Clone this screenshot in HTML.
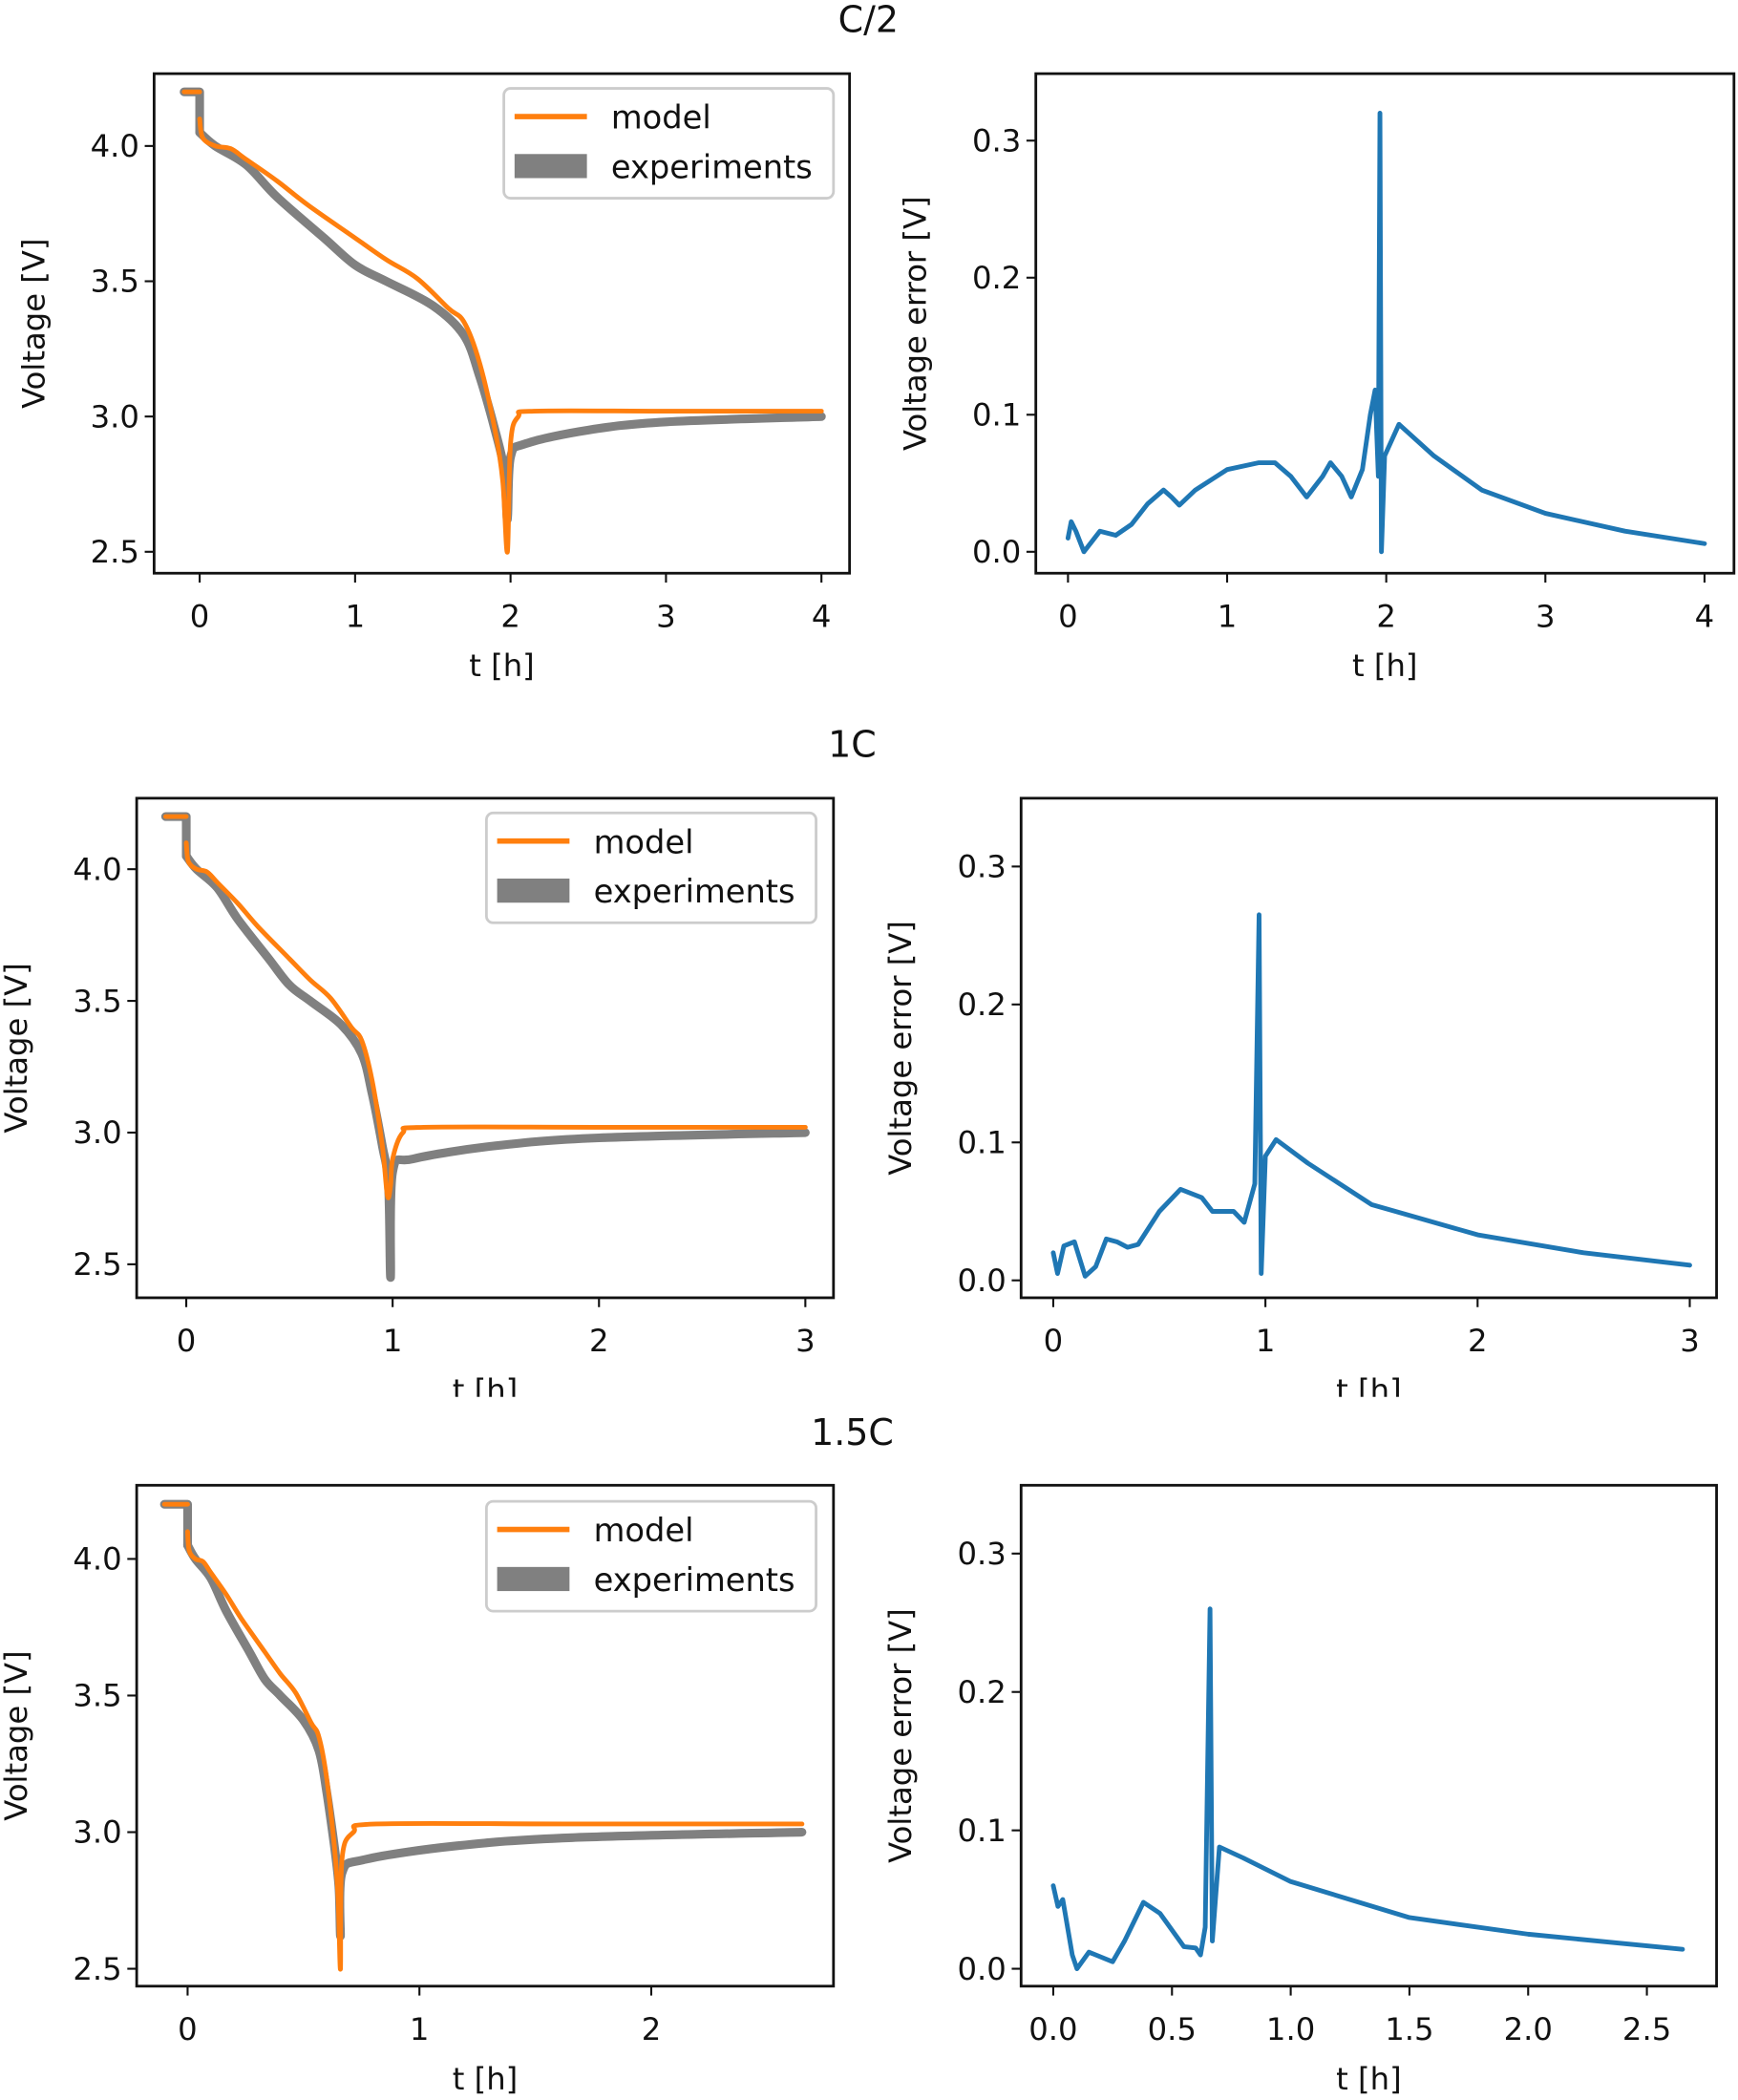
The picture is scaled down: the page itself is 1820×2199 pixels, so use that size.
<!DOCTYPE html>
<html><head><meta charset="utf-8"><style>
html,body{margin:0;padding:0;background:#fff}
svg{display:block}
text{font-family:"DejaVu Sans","Liberation Sans",sans-serif;fill:#111}
</style></head><body>
<svg id="s" width="1820" height="2199" viewBox="0 0 1297 1568" preserveAspectRatio="none" xmlns="http://www.w3.org/2000/svg">
<rect width="1297" height="1568" fill="#fff"/>
<g id="g"></g>
</svg>
<script>
var NS="http://www.w3.org/2000/svg",G=document.getElementById('g');
function el(t,a,txt){var e=document.createElementNS(NS,t);for(var k in a)e.setAttribute(k,a[k]);if(txt!==undefined)e.textContent=txt;G.appendChild(e);return e;}
function line(pts,X,Y,col,w,smooth){
 var P=pts.map(function(p){return [X(p[0]),Y(p[1])];}),d='M'+P[0][0].toFixed(1)+','+P[0][1].toFixed(1);
 for(var i=1;i<P.length;i++){
  if(!smooth){d+=' L'+P[i][0].toFixed(1)+','+P[i][1].toFixed(1);continue;}
  var p0=P[Math.max(i-2,0)],p1=P[i-1],p2=P[i],p3=P[Math.min(i+1,P.length-1)],k=1/6;
  var c1=[p1[0]+(p2[0]-p0[0])*k,p1[1]+(p2[1]-p0[1])*k],c2=[p2[0]-(p3[0]-p1[0])*k,p2[1]-(p3[1]-p1[1])*k];
  d+=' C'+c1[0].toFixed(1)+','+c1[1].toFixed(1)+' '+c2[0].toFixed(1)+','+c2[1].toFixed(1)+' '+p2[0].toFixed(1)+','+p2[1].toFixed(1);
 }
 el('path',{d:d,fill:'none',stroke:col,'stroke-width':w,'stroke-linejoin':'round','stroke-linecap':'round'});}
function axes(b,xt,yt,X,Y,ylab,xlab){
 xt.forEach(function(t){var x=X(t);el('line',{x1:x,y1:b.y1,x2:x,y2:b.y1+7,stroke:'#111','stroke-width':1.5});el('text',{x:x,y:b.y1+40,'font-size':23,'text-anchor':'middle'},String(t.toFixed(xt.dec)));});
 yt.forEach(function(t){var y=Y(t);el('line',{x1:b.x0-7,y1:y,x2:b.x0,y2:y,stroke:'#111','stroke-width':1.5});el('text',{x:b.x0-11,y:y+8,'font-size':23,'text-anchor':'end'},t.toFixed(1));});
 el('rect',{x:b.x0,y:b.y0,width:b.x1-b.x0,height:b.y1-b.y0,fill:'none',stroke:'#111','stroke-width':2});
 var cx=(b.x0+b.x1)/2;
 el('text',{x:cx,y:b.y1+77,'font-size':23,'text-anchor':'middle'},xlab);
 var yc=(b.y0+b.y1)/2,lx=b.x0-82;
 el('text',{x:lx,y:yc,'font-size':23,'text-anchor':'middle',transform:'rotate(-90 '+lx+' '+yc+')'},ylab);
}
function lin(a0,p0,a1,p1){return function(v){return p0+(v-a0)*(p1-p0)/(a1-a0);};}
var model=[[0,4.1],[0.02,4.03],[0.1,4.0],[0.2,3.99],[0.3,3.95],[0.5,3.87],[0.7,3.78],[1.0,3.66],[1.2,3.58],[1.4,3.51],[1.6,3.4],[1.7,3.35],[1.8,3.2],[1.9,2.95],[1.95,2.76],[1.98,2.5],[2.0,2.9],[2.05,3.0],[2.15,3.02],[3,3.02],[4,3.02]];
var exper=[[0,4.05],[0.1,4.0],[0.3,3.93],[0.5,3.81],[0.8,3.66],[1.0,3.56],[1.2,3.5],[1.5,3.41],[1.7,3.3],[1.8,3.15],[1.9,2.95],[1.96,2.8],[1.98,2.62],[2.0,2.85],[2.1,2.9],[2.5,2.95],[3,2.98],[4,3.0]];
function scaleT(arr,f,end){return arr.map(function(p){var t=p[0];if(t>2)t=f*2+(t-2)*(end-f*2)/2;else if(t>0)t=t*f;return [t,p[1]];});}
var rows=[
 {L:{x0:115,x1:634,y0:55,y1:428},lx:[0,4,149,613],ly:[4.0,2.5,109,412],xt:[0,1,2,3,4],f:1,end:4,
  R:{x0:773,x1:1294,y0:55,y1:428},rx:[0,4,797,1272],ry:[0,0.3,412,105],rxt:[0,1,2,3,4],rdec:0,
  err:[[0,0.01],[0.02,0.022],[0.05,0.015],[0.1,0.0],[0.2,0.015],[0.3,0.012],[0.4,0.02],[0.5,0.035],[0.6,0.045],[0.65,0.04],[0.7,0.034],[0.8,0.045],[1.0,0.06],[1.2,0.065],[1.3,0.065],[1.4,0.055],[1.5,0.04],[1.6,0.055],[1.65,0.065],[1.72,0.055],[1.78,0.04],[1.85,0.06],[1.9,0.1],[1.93,0.118],[1.95,0.055],[1.96,0.32],[1.97,0.0],[1.99,0.07],[2.08,0.093],[2.3,0.07],[2.6,0.045],[3,0.028],[3.5,0.015],[4,0.006]],
  leg:[376,66]},
 {L:{x0:102,x1:622,y0:596,y1:969},lx:[0,3,139,601],ly:[4.0,2.5,649,944],xt:[0,1,2,3],f:0.5,end:3,
  R:{x0:762,x1:1281,y0:596,y1:969},rx:[0,3,786,1261],ry:[0,0.3,956,647],rxt:[0,1,2,3],rdec:0,
  err:[[0,0.02],[0.02,0.005],[0.05,0.025],[0.1,0.028],[0.15,0.003],[0.2,0.01],[0.25,0.03],[0.3,0.028],[0.35,0.024],[0.4,0.026],[0.5,0.05],[0.6,0.066],[0.7,0.06],[0.75,0.05],[0.85,0.05],[0.9,0.042],[0.95,0.07],[0.97,0.265],[0.98,0.005],[1.0,0.09],[1.05,0.102],[1.2,0.085],[1.5,0.055],[2,0.033],[2.5,0.02],[3,0.011]],
  leg:[363,607]},
 {L:{x0:102,x1:622,y0:1109,y1:1483},lx:[0,2,140,486],ly:[4.0,2.5,1164,1470],xt:[0,1,2],f:0.333,end:2.65,
  R:{x0:762,x1:1281,y0:1109,y1:1483},rx:[0,2.5,786,1229],ry:[0,0.3,1470,1160],rxt:[0,0.5,1,1.5,2,2.5],rdec:1,
  err:[[0,0.06],[0.02,0.045],[0.04,0.05],[0.05,0.04],[0.08,0.01],[0.1,0.0],[0.15,0.012],[0.25,0.005],[0.3,0.02],[0.38,0.048],[0.45,0.04],[0.55,0.016],[0.6,0.015],[0.62,0.01],[0.64,0.03],[0.66,0.26],[0.67,0.02],[0.7,0.088],[0.8,0.08],[1.0,0.063],[1.5,0.037],[2.0,0.025],[2.65,0.014]],
  leg:[363,1121]}
];
rows.forEach(function(r,i){
 var X=lin(r.lx[0],r.lx[2],r.lx[1],r.lx[3]),Y=lin(r.ly[0],r.ly[2],r.ly[1],r.ly[3]);
 var xt=r.xt.slice();xt.dec=0;
 axes(r.L,xt,[2.5,3.0,3.5,4.0],X,Y,'Voltage [V]','t [h]');
 var e=scaleT(exper,r.f,r.end),m=scaleT(model,r.f,r.end);
 if(i==1){e=e.map(function(p){return p[1]<2.7?[p[0],2.45]:p;});m=m.map(function(p){return p[1]<2.6?[p[0],2.8]:p;});}
 if(i==2){m=m.map(function(p){return p[1]>3.01&&p[0]>0.6?[p[0],3.03]:p;});}
 line([[-0.1,4.2],[0,4.2],[0,4.05]],X,Y,'#808080',6.5,false);
 line(e,X,Y,'#808080',6.5,true);
 line([[-0.1,4.2],[0,4.2]],X,Y,'#ff7f0e',3.5,false);
 line(m,X,Y,'#ff7f0e',3.5,true);
 var lx=r.leg[0],ly=r.leg[1];
 el('rect',{x:lx,y:ly,width:246,height:82,rx:5,fill:'#fff',stroke:'#ccc','stroke-width':2,'fill-opacity':0.8});
 el('line',{x1:lx+8,y1:ly+21,x2:lx+62,y2:ly+21,stroke:'#ff7f0e','stroke-width':4});
 el('rect',{x:lx+8,y:ly+49,width:54,height:18,fill:'#808080'});
 el('text',{x:lx+80,y:ly+30,'font-size':24},'model');
 el('text',{x:lx+80,y:ly+67,'font-size':24},'experiments');
 var RX=lin(r.rx[0],r.rx[2],r.rx[1],r.rx[3]),RY=lin(r.ry[0],r.ry[2],r.ry[1],r.ry[3]);
 var rxt=r.rxt.slice();rxt.dec=r.rdec;
 axes(r.R,rxt,[0,0.1,0.2,0.3],RX,RY,'Voltage error [V]','t [h]');
 line(r.err,RX,RY,'#1f77b4',3.5,false);
});
el('rect',{x:0,y:1043,width:1297,height:9,fill:'#fff'});
el('text',{x:648,y:24,'font-size':27,'text-anchor':'middle'},'C/2');
el('text',{x:636,y:565,'font-size':27,'text-anchor':'middle'},'1C');
el('text',{x:636,y:1079,'font-size':27,'text-anchor':'middle'},'1.5C');
</script>
</body></html>
